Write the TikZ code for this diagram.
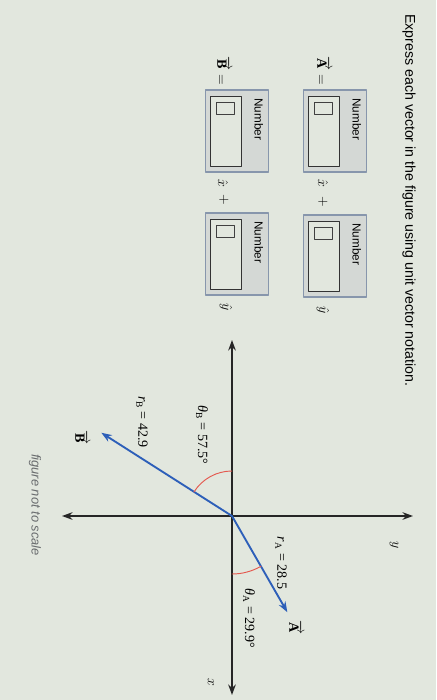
\documentclass[tikz,border=0pt]{standalone}
\usepackage{fontspec}
\setmainfont{Liberation Serif}
\setsansfont{Liberation Sans}
\usepackage{tikz}
\usetikzlibrary{calc}
\usetikzlibrary{arrows.meta}

\definecolor{paper}{RGB}{226,231,222}
\definecolor{boxfill}{RGB}{212,216,213}
\definecolor{boxedge}{RGB}{135,150,172}
\definecolor{vecblue}{RGB}{45,95,185}
\definecolor{arcred}{RGB}{228,88,78}
\definecolor{notegray}{RGB}{105,108,110}

\begin{document}
\begin{tikzpicture}[x=0.03cm, y=0.03cm, line cap = round, line join = round, >={Stealth[length=9pt,width=6.5pt]}]
\tikzstyle{outerbox}=[draw=boxedge, line width=1.6pt, fill=boxfill, minimum width=2.46cm, minimum height=1.89cm, inner sep=0pt]
\tikzstyle{inbox}=[draw=black!80, line width=0.7pt, fill=paper, minimum width=2.1cm, minimum height=0.93cm, inner sep=0pt]
\tikzstyle{slot}=[draw=black!75, line width=0.6pt, minimum width=0.36cm, minimum height=0.54cm, inner sep=0pt]
\tikzstyle{numlabel}=[font=\sffamily\fontsize{10}{12}\selectfont, inner sep=0pt]
\tikzstyle{lbl}=[font=\fontsize{12}{14}\selectfont, inner sep=1pt]
\tikzstyle{axis}=[line width=1.2pt, <->, color=black!85]
\tikzstyle{vec}=[line width=1.6pt, ->, color=vecblue]
\tikzstyle{angarc}=[line width=0.8pt, color=arcred]

\fill[paper] (0,0) rectangle (436,-700);
\useasboundingbox (0,0) rectangle (436,-700);

\begin{scope}[rotate=-90, transform shape]
\node[anchor=west, inner sep=0pt, font=\sffamily\fontsize{12.1}{14}\selectfont] (title) at (14,409)
  {Express each vector in the figure using unit vector notation.};

\node[lbl] (Aeq) at (71,324) {$\overrightarrow{\mathbf{A}} =$};
\node[lbl] (Beq) at (71,224) {$\overrightarrow{\mathbf{B}} =$};

\foreach \n/\u/\v in {ax/131/335, ay/256/335, bx/131/237, by/254/237}{
  \node[outerbox] (box-\n) at (\u,\v) {};
  \node[inbox, anchor=south west] (in-\n) at ($(box-\n.south west)+(7,5)$) {};
  \node[slot, anchor=west] (slot-\n) at ($(in-\n.west)+(6,0)$) {};
  \node[numlabel, anchor=north west] (num-\n) at ($(box-\n.north west)+(9,-6)$) {Number};
}

\node[lbl] (xhatA) at (183,323) {$\hat{x}$};
\node[lbl] (plusA) at (202,323) {$+$};
\node[lbl] (yhatA) at (310,323) {$\hat{y}$};
\node[lbl] (xhatB) at (183,223) {$\hat{x}$};
\node[lbl] (plusB) at (200,224) {$+$};
\node[lbl] (yhatB) at (307,226) {$\hat{y}$};

% axes
\coordinate (O) at (516,232);
\coordinate (xneg) at (340,232);
\coordinate (xpos) at (695,232);
\coordinate (yneg) at (516,62);
\coordinate (ypos) at (516,413);
\draw[axis] (xneg) -- (xpos);
\draw[axis] (yneg) -- (ypos);
\node[lbl] (xlab) at (682,211) {$x$};
\node[lbl] (ylab) at (545,394) {$y$};

% vectors
\coordinate (Atip) at ($(O)+(29.9:111)$);
\coordinate (Btip) at ($(O)+(237.5:155)$);
\draw[vec] (O) -- (Atip);
\draw[vec] (O) -- (Btip);
\draw[angarc] ($(O)+(0:58)$) arc (0:29.9:58);
\draw[angarc] ($(O)+(180:45)$) arc (180:237.5:45);

\node[lbl] (Avec) at (628,296) {$\overrightarrow{\mathbf{A}}$};
\node[lbl] (Bvec) at (438,82) {$\overrightarrow{\mathbf{B}}$};
\node[lbl] (rA) at (563,281) {\textit{r}\textsubscript{A} = 28.5};
\node[lbl] (thA) at (618,249) {\textit{θ}\textsubscript{A} = 29.9°};
\node[lbl] (rB) at (422,142) {\textit{r}\textsubscript{B} = 42.9};
\node[lbl] (thB) at (435,202) {\textit{θ}\textsubscript{B} = 57.5°};
\node[inner sep=0pt, font=\sffamily\itshape\fontsize{11}{13}\selectfont, color=notegray] (note) at (505,35)
  {figure not to scale};
\end{scope}
\end{tikzpicture}
\end{document}
